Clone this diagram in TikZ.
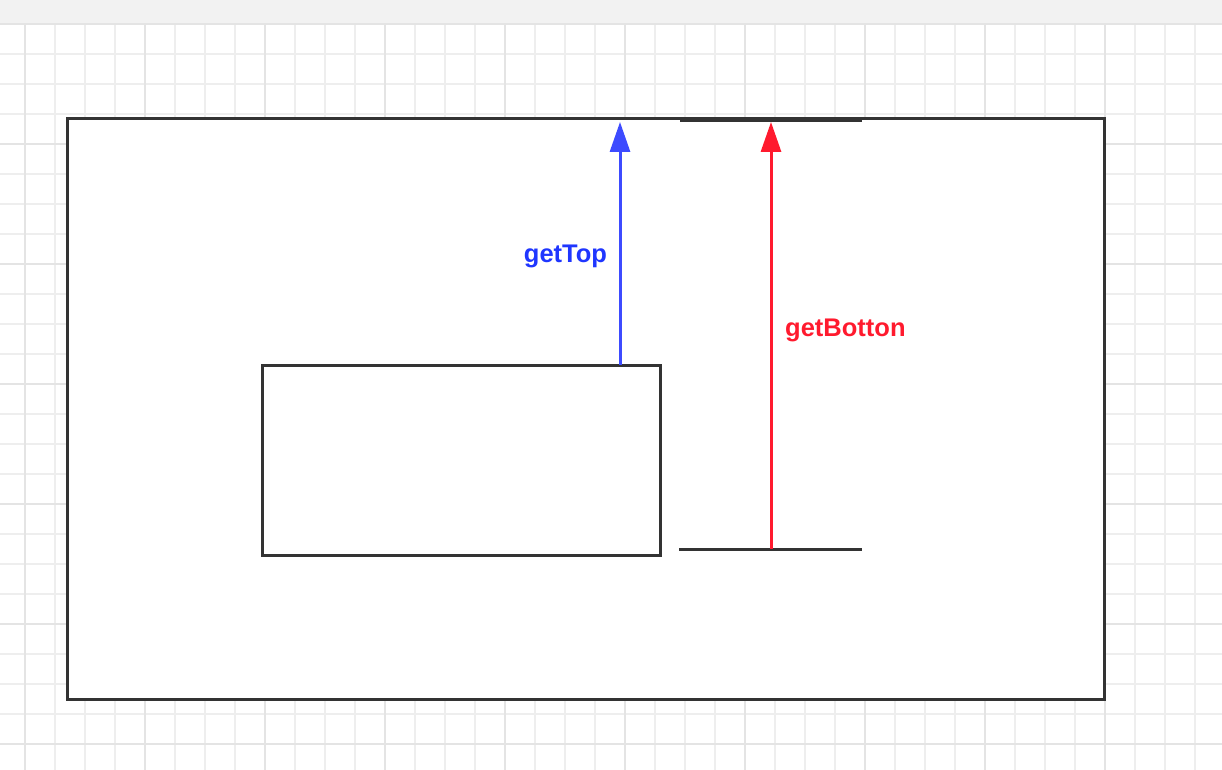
\documentclass[tikz,border=0pt]{standalone}
\usepackage{fontspec}
\setmainfont{Liberation Sans}
\usetikzlibrary{arrows.meta}
\definecolor{barcol}{HTML}{F2F2F2}
\definecolor{gridminor}{HTML}{EEEEEE}
\definecolor{gridmajor}{HTML}{E4E4E4}
\definecolor{edgecol}{HTML}{333333}
\definecolor{topblue}{HTML}{3D4BFF}
\definecolor{toptext}{HTML}{1F36FF}
\definecolor{botred}{HTML}{FF1A2E}
\tikzset{
  frame/.style={draw=edgecol, line width=3pt, minimum width=#1, inner sep=0pt, outer sep=0pt},
  measure/.style={line width=3pt, -{Triangle[length=30pt,width=20pt]}},
  lbl/.style={font=\bfseries\fontsize{25.5}{30}\selectfont, inner sep=0pt}
}
\begin{document}
\begin{tikzpicture}[x=1pt,y=-1pt]
         \useasboundingbox (0,0) rectangle (1222,770);
         % background grid
         \fill[white] (0,0) rectangle (1222,770);
         \fill[barcol] (0,0) rectangle (1222,24);
         \foreach \x in {25,55,...,1222} \draw[gridminor, line width=2pt] (\x,24) -- (\x,770);
         \foreach \y in {24,54,...,770} \draw[gridminor, line width=2pt] (0,\y) -- (1222,\y);
         \foreach \x in {25,145,...,1222} \draw[gridmajor, line width=2pt] (\x,24) -- (\x,770);
         \foreach \y in {24,144,...,770} \draw[gridmajor, line width=2pt] (0,\y) -- (1222,\y);
         % parent and child
         \node[frame=1037, minimum height=580, fill=white] (parent) at (585.5,409) {};
         \node[frame=398, minimum height=190] (child) at (461,460) {};
         \coordinate (topend) at (620,122);
         \coordinate (botend) at (771,122);
         \coordinate (bl) at (679,549);
         \coordinate (br) at (862,549);
         \coordinate (tl) at (680,120);
         \coordinate (tr) at (862,120);
         \draw[edgecol, line width=3pt] (bl) -- (br);
         \draw[edgecol, line width=3.6pt] (tl) -- (tr);
         \draw[measure, topblue] (child.north -| topend) -- (topend);
         \draw[measure, botred] (bl -| botend) -- (botend);
         \node[lbl, text=toptext] (toplbl) at (565.5,256) {getTop};
         \node[lbl, text=botred, anchor=west] (botlbl) at (785,330) {getBotton};
         \end{tikzpicture}
\end{document}
